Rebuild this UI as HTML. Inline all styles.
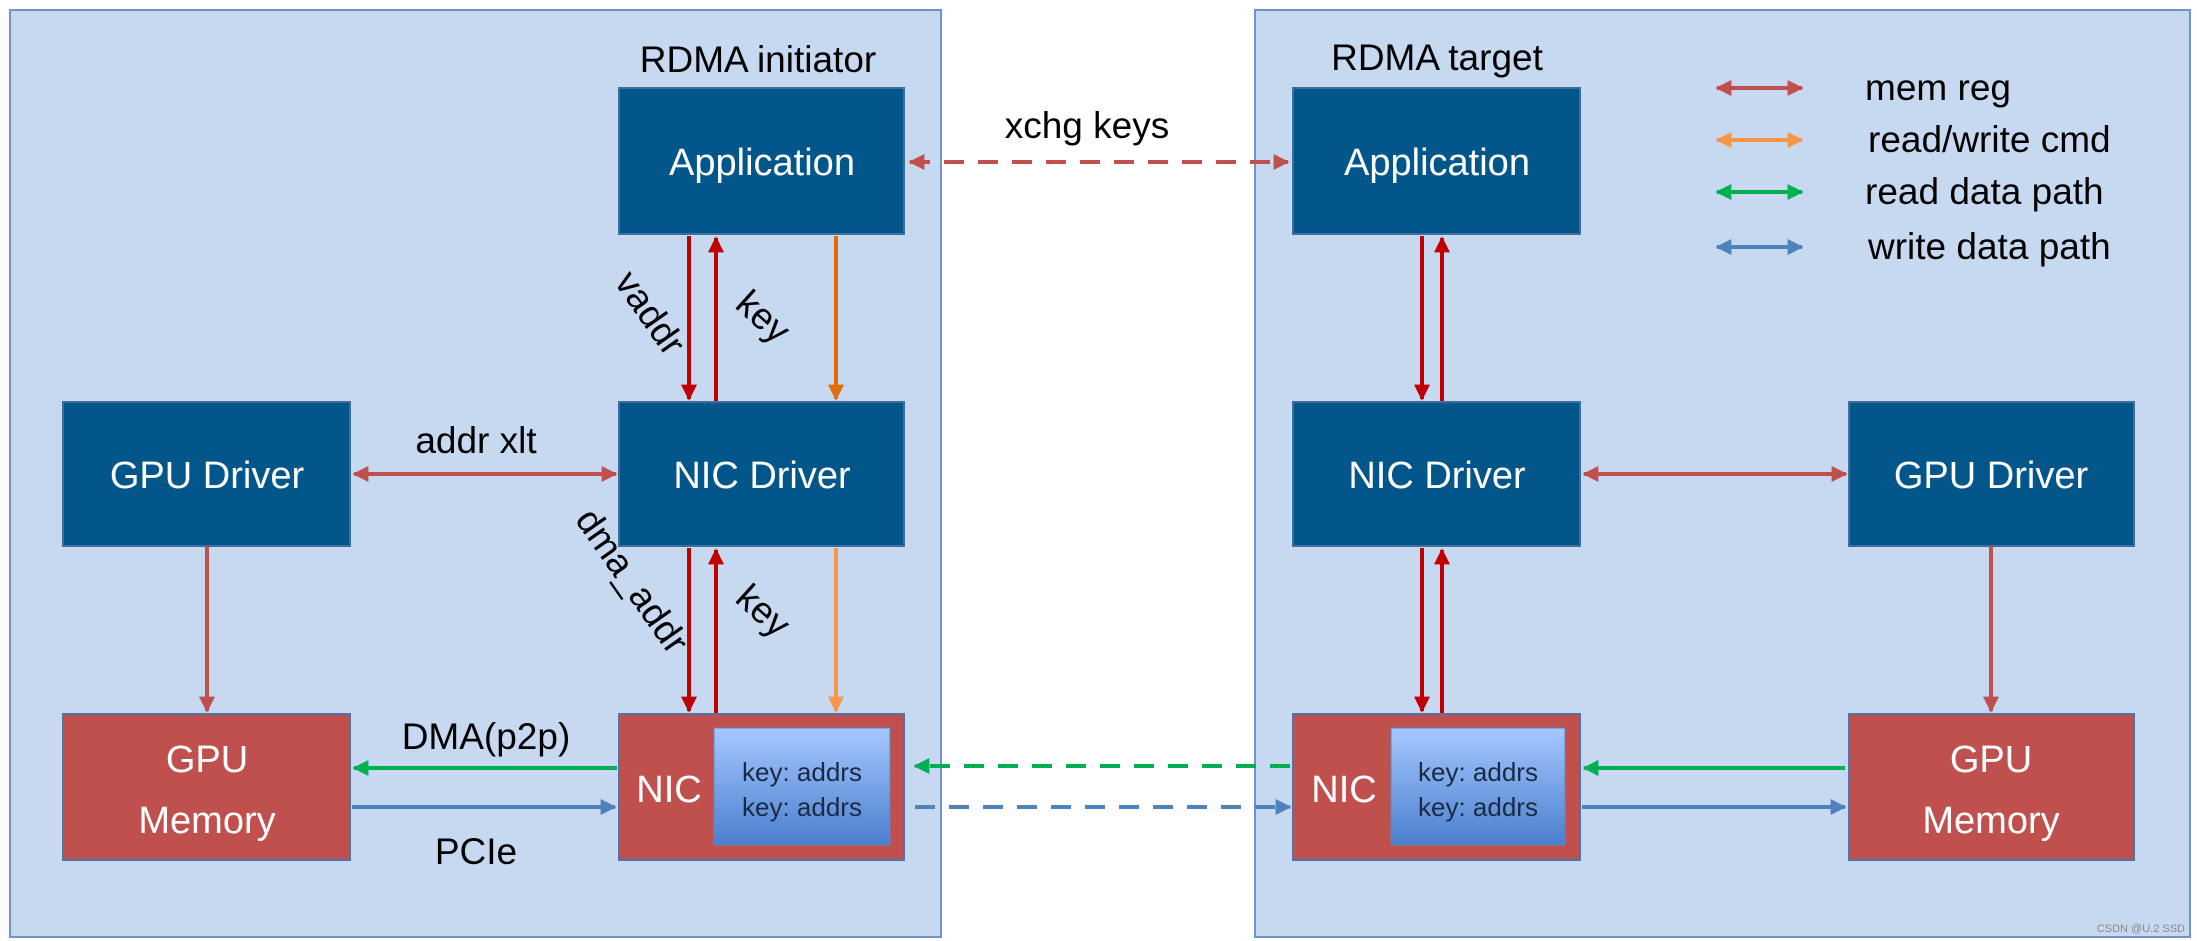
<!DOCTYPE html>
<html><head><meta charset="utf-8"><style>
html,body{margin:0;padding:0;background:#fff;}
svg{display:block;font-family:"Liberation Sans",sans-serif;}
</style></head><body>
<svg width="2197" height="941" viewBox="0 0 2197 941" xmlns="http://www.w3.org/2000/svg">
<defs>
<linearGradient id="g" x1="0" y1="0" x2="0" y2="1"><stop offset="0" stop-color="#a6c8ff"/><stop offset="1" stop-color="#4a7fce"/></linearGradient>
<marker id="mr" viewBox="0 0 10 10" refX="9" refY="5" markerWidth="4" markerHeight="4" orient="auto-start-reverse"><path d="M0,0L10,5L0,10z" fill="#c0504d"/></marker>
<marker id="md" viewBox="0 0 10 10" refX="9" refY="5" markerWidth="4" markerHeight="4" orient="auto-start-reverse"><path d="M0,0L10,5L0,10z" fill="#c00000"/></marker>
<marker id="mo" viewBox="0 0 10 10" refX="9" refY="5" markerWidth="4" markerHeight="4" orient="auto-start-reverse"><path d="M0,0L10,5L0,10z" fill="#f79646"/></marker>
<marker id="mo2" viewBox="0 0 10 10" refX="9" refY="5" markerWidth="4" markerHeight="4" orient="auto-start-reverse"><path d="M0,0L10,5L0,10z" fill="#e36c09"/></marker>
<marker id="mg" viewBox="0 0 10 10" refX="9" refY="5" markerWidth="4" markerHeight="4" orient="auto-start-reverse"><path d="M0,0L10,5L0,10z" fill="#00b050"/></marker>
<marker id="mb" viewBox="0 0 10 10" refX="9" refY="5" markerWidth="4" markerHeight="4" orient="auto-start-reverse"><path d="M0,0L10,5L0,10z" fill="#4f81bd"/></marker>
</defs>
<rect x="10" y="10" width="931" height="927" fill="#c6d9f0" stroke="#6f95c8" stroke-width="2"/>
<rect x="1255" y="10" width="935" height="927" fill="#c6d9f0" stroke="#6f95c8" stroke-width="2"/>
<g fill="#02568a" stroke="#3d6e9e" stroke-width="2">
<rect x="619" y="88" width="285" height="146"/><rect x="619" y="402" width="285" height="144"/><rect x="63" y="402" width="287" height="144"/>
<rect x="1293" y="88" width="287" height="146"/><rect x="1293" y="402" width="287" height="144"/><rect x="1849" y="402" width="285" height="144"/>
</g>
<g fill="#c0504d" stroke="#4f74a8" stroke-width="2">
<rect x="63" y="714" width="287" height="146"/><rect x="619" y="714" width="285" height="146"/>
<rect x="1293" y="714" width="287" height="146"/><rect x="1849" y="714" width="285" height="146"/>
</g>
<rect x="714" y="728" width="176" height="117" fill="url(#g)" stroke="#5f86c0"/>
<rect x="1391" y="728" width="174" height="117" fill="url(#g)" stroke="#5f86c0"/>
<g fill="#fff" font-size="38" text-anchor="middle">
<text x="762" y="175">Application</text><text x="762" y="488">NIC Driver</text><text x="207" y="488">GPU Driver</text>
<text x="1437" y="175">Application</text><text x="1437" y="488">NIC Driver</text><text x="1991" y="488">GPU Driver</text>
<text x="207" y="772">GPU</text><text x="207" y="833">Memory</text>
<text x="1991" y="772">GPU</text><text x="1991" y="833">Memory</text>
<text x="669" y="802">NIC</text><text x="1344" y="802">NIC</text>
</g>
<g fill="#1a2a44" font-size="26" text-anchor="middle">
<text x="802" y="781">key: addrs</text><text x="802" y="816">key: addrs</text>
<text x="1478" y="781">key: addrs</text><text x="1478" y="816">key: addrs</text>
</g>
<g fill="#000" font-size="37">
<text x="758" y="72" text-anchor="middle">RDMA initiator</text>
<text x="1437" y="70" text-anchor="middle">RDMA target</text>
<text x="1087" y="138" text-anchor="middle">xchg keys</text>
<text x="476" y="453" text-anchor="middle">addr xlt</text>
<text x="486" y="749" text-anchor="middle">DMA(p2p)</text>
<text x="476" y="864" text-anchor="middle">PCIe</text>
<text x="1865" y="100">mem reg</text><text x="1868" y="152">read/write cmd</text>
<text x="1865" y="204">read data path</text><text x="1868" y="259">write data path</text>
<text transform="translate(640,320) rotate(55)" text-anchor="middle">vaddr</text>
<text transform="translate(755,326) rotate(42)" text-anchor="middle">key</text>
<text transform="translate(622,588) rotate(55)" text-anchor="middle">dma_addr</text>
<text transform="translate(755,620) rotate(42)" text-anchor="middle">key</text>
</g>
<g stroke-width="4" fill="none">
<line x1="1717" y1="88" x2="1802" y2="88" stroke="#c0504d" marker-start="url(#mr)" marker-end="url(#mr)"/>
<line x1="1717" y1="140" x2="1802" y2="140" stroke="#f79646" marker-start="url(#mo)" marker-end="url(#mo)"/>
<line x1="1717" y1="192" x2="1802" y2="192" stroke="#00b050" marker-start="url(#mg)" marker-end="url(#mg)"/>
<line x1="1717" y1="247" x2="1802" y2="247" stroke="#4f81bd" marker-start="url(#mb)" marker-end="url(#mb)"/>
<line x1="910" y1="162" x2="1288" y2="162" stroke="#c0504d" stroke-dasharray="20,14" marker-start="url(#mr)" marker-end="url(#mr)"/>
<line x1="354" y1="474" x2="616" y2="474" stroke="#c0504d" marker-start="url(#mr)" marker-end="url(#mr)"/>
<line x1="1584" y1="474" x2="1846" y2="474" stroke="#c0504d" marker-start="url(#mr)" marker-end="url(#mr)"/>
<line x1="207" y1="546" x2="207" y2="711" stroke="#c0504d" marker-end="url(#mr)"/>
<line x1="1991" y1="546" x2="1991" y2="711" stroke="#c0504d" marker-end="url(#mr)"/>
<line x1="689" y1="236" x2="689" y2="399" stroke="#c00000" marker-end="url(#md)"/>
<line x1="716" y1="401" x2="716" y2="238" stroke="#c00000" marker-end="url(#md)"/>
<line x1="689" y1="548" x2="689" y2="711" stroke="#c00000" marker-end="url(#md)"/>
<line x1="716" y1="713" x2="716" y2="550" stroke="#c00000" marker-end="url(#md)"/>
<line x1="1422" y1="236" x2="1422" y2="399" stroke="#c00000" marker-end="url(#md)"/>
<line x1="1442" y1="401" x2="1442" y2="238" stroke="#c00000" marker-end="url(#md)"/>
<line x1="1422" y1="548" x2="1422" y2="711" stroke="#c00000" marker-end="url(#md)"/>
<line x1="1442" y1="713" x2="1442" y2="550" stroke="#c00000" marker-end="url(#md)"/>
<line x1="836" y1="236" x2="836" y2="399" stroke="#e36c09" marker-end="url(#mo2)"/>
<line x1="836" y1="548" x2="836" y2="711" stroke="#f79646" marker-end="url(#mo)"/>
<line x1="617" y1="768" x2="354" y2="768" stroke="#00b050" marker-end="url(#mg)"/>
<line x1="352" y1="807" x2="615" y2="807" stroke="#4f81bd" marker-end="url(#mb)"/>
<line x1="1290" y1="766" x2="915" y2="766" stroke="#00b050" stroke-dasharray="20,14" marker-end="url(#mg)"/>
<line x1="915" y1="807" x2="1290" y2="807" stroke="#4f81bd" stroke-dasharray="20,14" marker-end="url(#mb)"/>
<line x1="1845" y1="768" x2="1584" y2="768" stroke="#00b050" marker-end="url(#mg)"/>
<line x1="1582" y1="807" x2="1845" y2="807" stroke="#4f81bd" marker-end="url(#mb)"/>
</g>
<text x="2185" y="932" font-size="11" fill="#888" text-anchor="end">CSDN @U.2 SSD</text>
</svg>
</body></html>
